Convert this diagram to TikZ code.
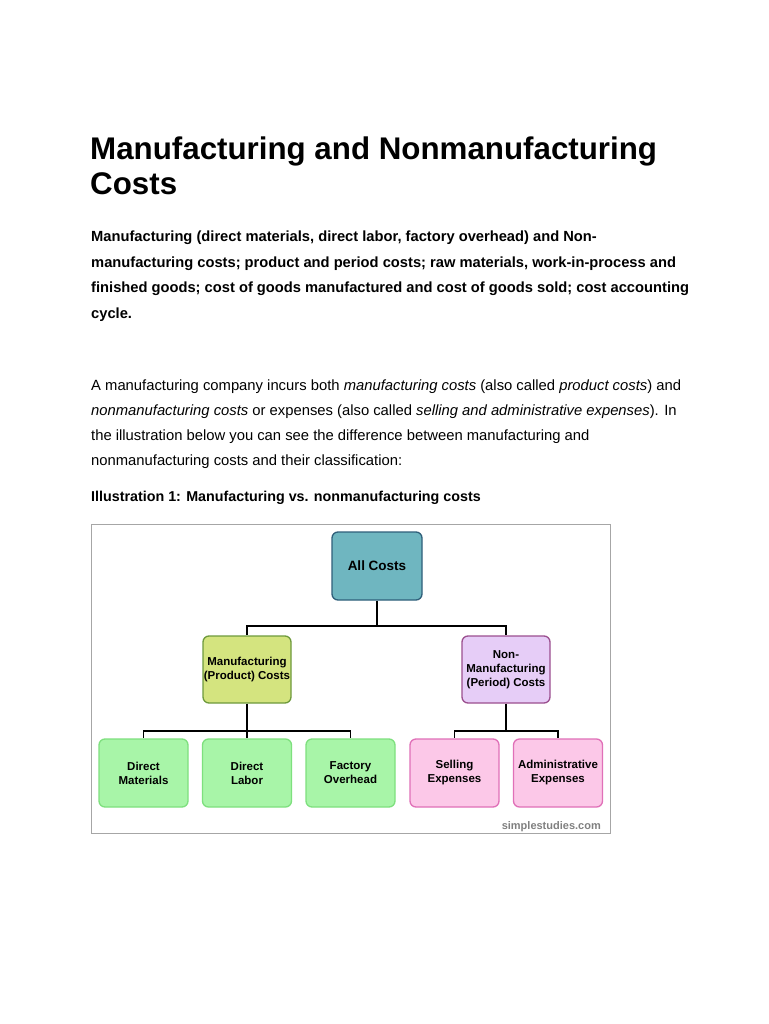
\documentclass[tikz,border=0pt]{standalone}
\usepackage{fontspec}
\setmainfont{Liberation Sans}
\begin{document}
\begin{tikzpicture}[x=1pt,y=-1pt,
 txt/.style={anchor=base west,inner sep=0pt,font=\fontsize{14.8}{16}\selectfont},
 btxt/.style={txt,font=\fontsize{14.7}{16}\selectfont\bfseries},
 box/.style={draw,line width=1.3pt,rounded corners=6pt,align=center,inner sep=0pt,font=\fontsize{11.5}{14}\selectfont\bfseries},
 grn/.style={box,fill=grnF,draw=grnD},
 pnk/.style={box,fill=pnkF,draw=pnkD},
 conn/.style={line width=1.3pt,black}]
\definecolor{tealF}{HTML}{6FB6C0}\definecolor{tealD}{HTML}{2F5F7A}
\definecolor{ylwF}{HTML}{D4E47F}\definecolor{ylwD}{HTML}{6E9A3C}
\definecolor{vioF}{HTML}{E6CDF7}\definecolor{vioD}{HTML}{9B4F8F}
\definecolor{grnF}{HTML}{A8F5A8}\definecolor{grnD}{HTML}{7EE07E}
\definecolor{pnkF}{HTML}{FCC8E8}\definecolor{pnkD}{HTML}{E070B8}
\useasboundingbox[fill=white] (0,0) rectangle (768,1024);
\node[anchor=base west,inner sep=0pt,font=\fontsize{31.3}{34}\selectfont\bfseries] (t1) at (90,160) {Manufacturing and Nonmanufacturing};
\node[anchor=base west,inner sep=0pt,font=\fontsize{31.3}{34}\selectfont\bfseries] (t2) at (90,195) {Costs};
\node[btxt] (b1) at (91,241) {Manufacturing (direct materials, direct labor, factory overhead) and Non-};
\node[btxt] (b2) at (91,267) {manufacturing costs; product and period costs; raw materials, work-in-process and};
\node[btxt] (b3) at (91,292) {finished goods; cost of goods manufactured and cost of goods sold; cost accounting};
\node[btxt] (b4) at (91,318) {cycle.};
\node[txt] (p1) at (91,390) {A manufacturing company incurs both \textit{manufacturing costs} (also called \textit{product costs}) and};
\node[txt] (p2) at (91,415) {\textit{nonmanufacturing costs} or expenses (also called \textit{selling and administrative expenses}). In};
\node[txt] (p3) at (91,440) {the illustration below you can see the difference between manufacturing and};
\node[txt] (p4) at (91,465) {nonmanufacturing costs and their classification:};
\node[anchor=base west,inner sep=0pt,font=\fontsize{14.3}{16}\selectfont\bfseries] (cap) at (91,501) {Illustration 1: Manufacturing vs. nonmanufacturing costs};
\draw[gray!70,line width=0.8pt] (91,524) rectangle (610,833);
\node[box,fill=tealF,draw=tealD,minimum width=90pt,minimum height=68pt,font=\fontsize{13.5}{15}\selectfont\bfseries] (all) at (377,566) {All Costs};
\node[box,fill=ylwF,draw=ylwD,minimum width=88pt,minimum height=67pt] (man) at (247,669.5) {Manufacturing\\(Product) Costs};
\node[box,fill=vioF,draw=vioD,minimum width=88pt,minimum height=67pt] (non) at (506,669.5) {Non-\\Manufacturing\\(Period) Costs};
\foreach \n/\x/\t/\s in {dm/143.5/{Direct\\Materials}/grn, dl/247/{Direct\\Labor}/grn, fo/350.5/{Factory\\Overhead}/grn, se/454.5/{Selling\\Expenses}/pnk, ae/558/{Administrative\\Expenses}/pnk}
  \node[\s,minimum width=89pt,minimum height=68pt] (\n) at (\x,773) {\t};
\coordinate (j1) at (377,626);
\coordinate (j2) at (247,731);
\coordinate (j3) at (506,731);
\draw[conn] (all.south) -- (j1);
\draw[conn] (j1) -| (man.north);
\draw[conn] (j1) -| (non.north);
\draw[conn] (man.south) -- (j2);
\draw[conn] (j2) -| (dm.north);
\draw[conn] (j2) -- (dl.north);
\draw[conn] (j2) -| (fo.north);
\draw[conn] (non.south) -- (j3);
\draw[conn] (j3) -| (se.north);
\draw[conn] (j3) -| (ae.north);
\node[anchor=base east,inner sep=0pt,text=gray,font=\fontsize{11}{12}\selectfont\bfseries] (ss) at (601,829) {simplestudies.com};
\end{tikzpicture}
\end{document}
